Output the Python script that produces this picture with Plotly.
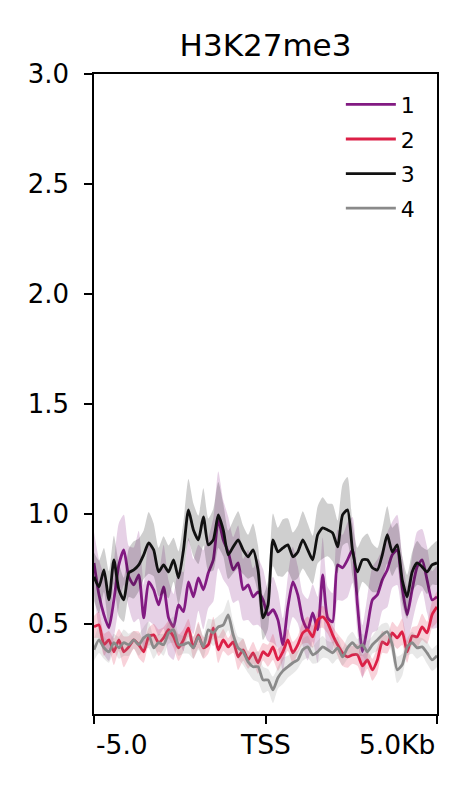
import numpy as np
import plotly.graph_objects as go

TITLE = 'H3K27me3'
LABELS = ['1', '2', '3', '4']
COLORS = ['#821a82', '#dc1f46', '#111111', '#8a8a8a']
FILLS = ['rgba(130,26,130,0.2)', 'rgba(220,31,70,0.2)', 'rgba(17,17,17,0.2)', 'rgba(138,138,138,0.2)']

X_TICKS = [-5, 0, 5]
X_TICK_TEXT = ['-5.0', 'TSS', '5.0Kb']
Y_TICKS = [0.5, 1.0, 1.5, 2.0, 2.5, 3.0]

# mean signal per bin
mean_1 = [0.777, 0.632, 0.541, 0.482, 0.609, 0.768, 0.836, 0.714, 0.677, 0.723,
          0.527, 0.691, 0.655, 0.586, 0.668, 0.527, 0.486, 0.586, 0.555, 0.691,
          0.623, 0.709, 0.655, 0.732, 0.791, 0.973, 0.882, 0.827, 0.745, 0.777,
          0.655, 0.677, 0.623, 0.645, 0.609, 0.541, 0.564, 0.518, 0.405, 0.577,
          0.691, 0.632, 0.518, 0.473, 0.550, 0.473, 0.723, 0.527, 0.509, 0.768,
          0.755, 0.791, 0.836, 0.586, 0.373, 0.486, 0.609, 0.632, 0.700, 0.745,
          0.814, 0.836, 0.664, 0.541, 0.655, 0.759, 0.791, 0.700, 0.609, 0.623]
mean_2 = [0.486, 0.495, 0.405, 0.427, 0.373, 0.427, 0.373, 0.395, 0.427, 0.405,
          0.373, 0.441, 0.450, 0.414, 0.436, 0.473, 0.441, 0.391, 0.427, 0.482,
          0.391, 0.450, 0.391, 0.405, 0.482, 0.382, 0.427, 0.395, 0.418, 0.350,
          0.382, 0.336, 0.368, 0.323, 0.373, 0.355, 0.395, 0.336, 0.373, 0.427,
          0.368, 0.405, 0.459, 0.473, 0.441, 0.518, 0.532, 0.505, 0.450, 0.405,
          0.368, 0.350, 0.359, 0.359, 0.309, 0.336, 0.291, 0.336, 0.418, 0.405,
          0.459, 0.436, 0.464, 0.373, 0.445, 0.441, 0.486, 0.459, 0.541, 0.577]
mean_3 = [0.714, 0.668, 0.745, 0.609, 0.791, 0.655, 0.609, 0.732, 0.745, 0.768,
          0.814, 0.868, 0.836, 0.736, 0.768, 0.736, 0.791, 0.709, 0.836, 1.018,
          0.927, 0.882, 0.986, 0.859, 0.882, 0.995, 0.927, 0.814, 0.850, 0.882,
          0.836, 0.805, 0.836, 0.745, 0.527, 0.586, 0.882, 0.827, 0.845, 0.859,
          0.805, 0.827, 0.882, 0.836, 0.791, 0.905, 0.936, 0.927, 0.914, 0.850,
          0.995, 1.018, 0.836, 0.736, 0.791, 0.791, 0.755, 0.745, 0.814, 0.905,
          0.827, 0.859, 0.700, 0.623, 0.736, 0.777, 0.759, 0.736, 0.768, 0.777]
mean_4 = [0.382, 0.427, 0.391, 0.373, 0.414, 0.391, 0.414, 0.405, 0.427, 0.405,
          0.436, 0.450, 0.391, 0.414, 0.405, 0.459, 0.473, 0.405, 0.405, 0.414,
          0.391, 0.441, 0.395, 0.473, 0.459, 0.486, 0.495, 0.541, 0.450, 0.391,
          0.373, 0.327, 0.305, 0.305, 0.245, 0.245, 0.200, 0.255, 0.286, 0.305,
          0.323, 0.336, 0.382, 0.395, 0.359, 0.373, 0.395, 0.382, 0.368, 0.391,
          0.350, 0.391, 0.414, 0.391, 0.405, 0.373, 0.405, 0.427, 0.450, 0.464,
          0.405, 0.291, 0.314, 0.395, 0.414, 0.391, 0.395, 0.368, 0.336, 0.355]

# half width of the shaded error band
err_1 = [0.14, 0.16, 0.18, 0.15, 0.17, 0.19, 0.16, 0.14, 0.17, 0.20,
         0.15, 0.18, 0.16, 0.14, 0.19, 0.17, 0.15, 0.16, 0.18, 0.20,
         0.17, 0.15, 0.18, 0.16, 0.19, 0.22, 0.18, 0.16, 0.15, 0.17,
         0.14, 0.16, 0.13, 0.15, 0.14, 0.12, 0.15, 0.13, 0.12, 0.14,
         0.16, 0.13, 0.12, 0.14, 0.13, 0.15, 0.17, 0.14, 0.13, 0.16,
         0.15, 0.17, 0.15, 0.13, 0.12, 0.14, 0.15, 0.16, 0.14, 0.17,
         0.15, 0.16, 0.14, 0.13, 0.15, 0.16, 0.14, 0.15, 0.13, 0.14]
err_2 = [0.05, 0.06, 0.05, 0.04, 0.06, 0.05, 0.07, 0.05, 0.04, 0.06,
         0.05, 0.04, 0.05, 0.06, 0.05, 0.04, 0.05, 0.06, 0.05, 0.04,
         0.05, 0.06, 0.05, 0.04, 0.05, 0.06, 0.05, 0.04, 0.05, 0.06,
         0.05, 0.04, 0.05, 0.05, 0.04, 0.05, 0.06, 0.05, 0.04, 0.05,
         0.05, 0.04, 0.05, 0.06, 0.05, 0.04, 0.05, 0.05, 0.04, 0.05,
         0.06, 0.05, 0.04, 0.05, 0.05, 0.04, 0.05, 0.06, 0.05, 0.04,
         0.05, 0.05, 0.06, 0.05, 0.04, 0.05, 0.06, 0.05, 0.06, 0.07]
err_3 = [0.11, 0.12, 0.10, 0.13, 0.11, 0.12, 0.10, 0.11, 0.13, 0.12,
         0.11, 0.14, 0.12, 0.11, 0.13, 0.12, 0.10, 0.12, 0.13, 0.14,
         0.12, 0.11, 0.13, 0.12, 0.14, 0.15, 0.12, 0.11, 0.12, 0.13,
         0.11, 0.10, 0.12, 0.11, 0.10, 0.11, 0.12, 0.11, 0.13, 0.12,
         0.11, 0.12, 0.13, 0.12, 0.11, 0.13, 0.14, 0.12, 0.13, 0.12,
         0.14, 0.15, 0.12, 0.11, 0.10, 0.12, 0.11, 0.10, 0.12, 0.13,
         0.11, 0.10, 0.11, 0.10, 0.09, 0.10, 0.09, 0.10, 0.09, 0.10]
err_4 = [0.05, 0.06, 0.05, 0.05, 0.04, 0.05, 0.06, 0.05, 0.04, 0.05,
         0.05, 0.06, 0.05, 0.04, 0.05, 0.05, 0.06, 0.05, 0.04, 0.05,
         0.05, 0.06, 0.05, 0.05, 0.06, 0.05, 0.06, 0.07, 0.06, 0.05,
         0.06, 0.05, 0.06, 0.07, 0.06, 0.05, 0.06, 0.05, 0.06, 0.05,
         0.05, 0.04, 0.05, 0.05, 0.04, 0.05, 0.05, 0.04, 0.05, 0.05,
         0.04, 0.05, 0.05, 0.04, 0.05, 0.05, 0.04, 0.05, 0.05, 0.04,
         0.05, 0.06, 0.05, 0.04, 0.05, 0.05, 0.04, 0.05, 0.05, 0.05]

means = [mean_1, mean_2, mean_3, mean_4]
errs = [err_1, err_2, err_3, err_4]

# bin centres in kb from -5 to +5
bins = np.linspace(-5, 5, len(mean_1))

fig = go.Figure()

for label, color, fill, m, e in zip(LABELS, COLORS, FILLS, means, errs):
    m = np.array(m)
    e = np.array(e)
    upper = m + e
    lower = m - e
    fig.add_trace(go.Scatter(
        x=np.concatenate([bins, bins[::-1]]),
        y=np.concatenate([upper, lower[::-1]]),
        fill='toself', fillcolor=fill, line=dict(width=0, shape='spline', smoothing=0.6),
        mode='lines', showlegend=False, hoverinfo='skip'))
    fig.add_trace(go.Scatter(
        x=bins, y=m, mode='lines', name=label, legendgroup=label,
        line=dict(color=color, width=2.8, shape='spline', smoothing=0.6)))

axis_style = dict(showline=True, linecolor='black', linewidth=1.5, mirror=True,
                  ticks='outside', ticklen=8, tickwidth=1.5, tickcolor='black',
                  showgrid=False, zeroline=False,
                  tickfont=dict(size=26, color='black'))

# end labels of the x axis are aligned to the frame edges, as in deepTools
fig.update_xaxes(range=[-5, 5], tickvals=X_TICKS, ticktext=['', '', ''], **axis_style)
fig.update_yaxes(range=[0.09, 3.0], tickvals=Y_TICKS, tickformat='.1f',
                 ticklabelstandoff=10, **axis_style)

anchors = ['left', 'center', 'right']
for tx, txt, anc in zip(X_TICKS, X_TICK_TEXT, anchors):
    fig.add_annotation(x=tx, xref='x', y=-0.047, yref='paper', text=txt,
                       showarrow=False, xanchor=anc, yanchor='middle',
                       font=dict(size=26.5, color='black'))

fig.update_layout(
    width=474, height=790,
    margin=dict(l=94, r=37, t=74, b=76),
    paper_bgcolor='white', plot_bgcolor='white',
    font=dict(family='DejaVu Sans', color='black'),
    title=dict(text=TITLE, x=0.5, xref='paper', xanchor='center',
               y=1 - 45 / 790, yanchor='middle', font=dict(size=31)),
    legend=dict(x=0.95, y=0.985, xanchor='right', yanchor='top',
                bgcolor='rgba(0,0,0,0)', font=dict(size=22),
                itemwidth=50, tracegroupgap=3),
)

fig.write_html('out.html', config={'displayModeBar': False},
               post_script="document.body.style.margin='0px';")
